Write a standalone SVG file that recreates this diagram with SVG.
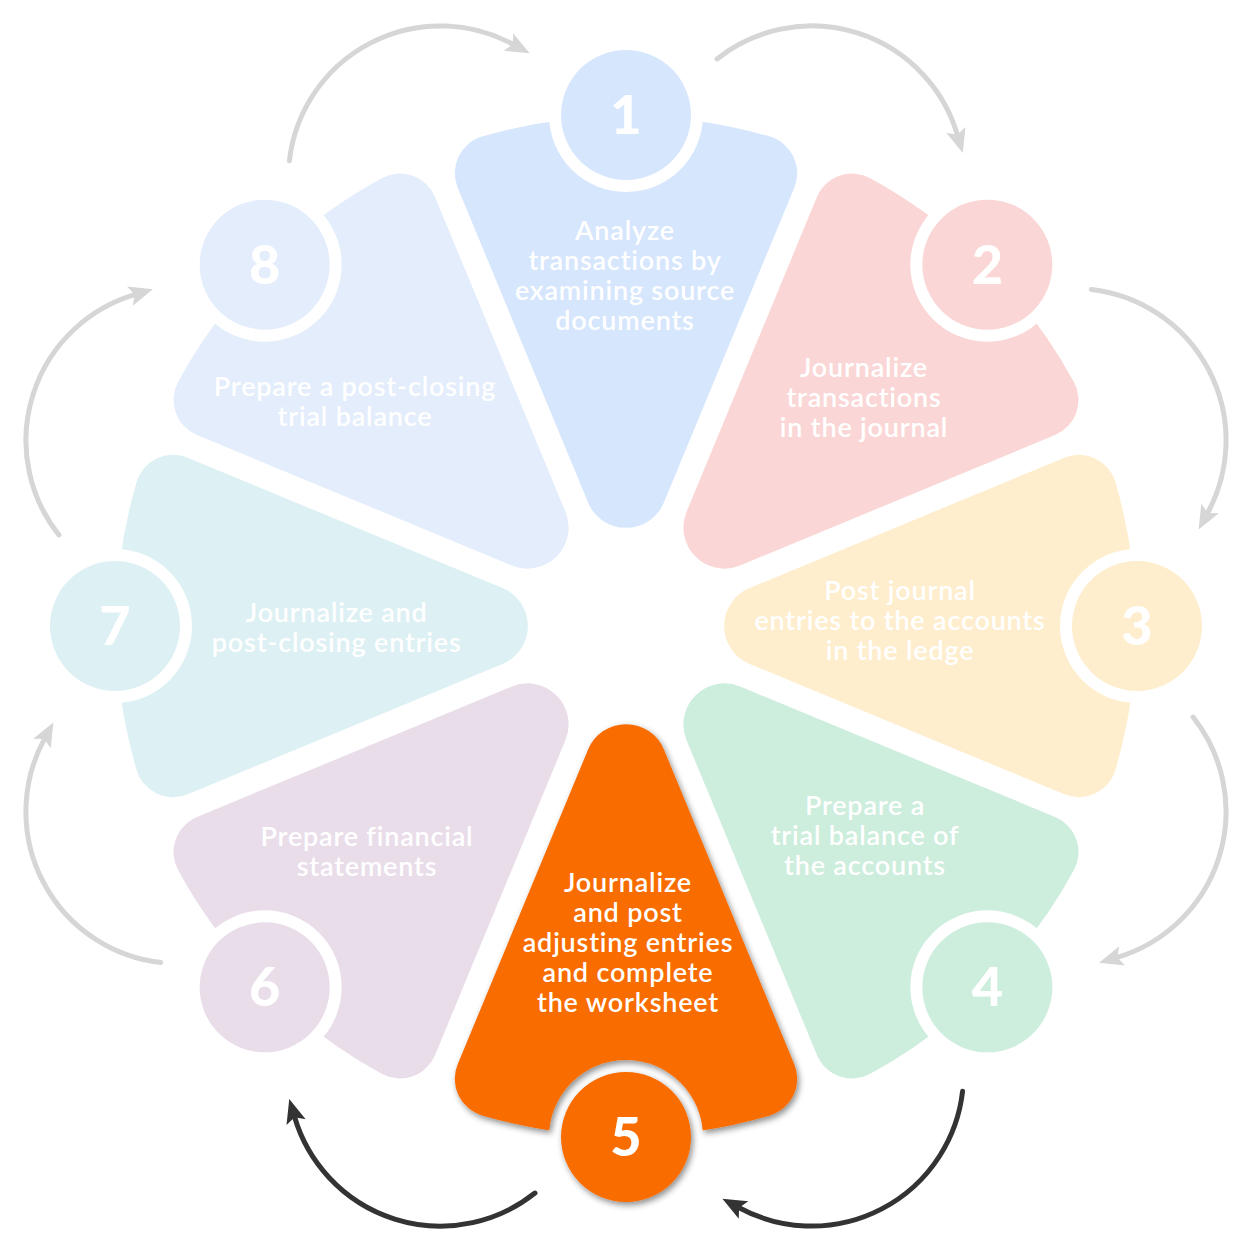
<svg xmlns="http://www.w3.org/2000/svg" xmlns:xlink="http://www.w3.org/1999/xlink" width="1251" height="1251" viewBox="0 0 1251 1251">
<style>
.lbl{font-family:Lato,"Open Sans","Liberation Sans",sans-serif;font-size:27px;font-weight:600;letter-spacing:0.8px;fill:#fff;text-anchor:middle}
.num{font-family:Lato,"Open Sans","Liberation Sans",sans-serif;font-size:54px;font-weight:900;fill:#fff;text-anchor:middle}
.arc{fill:none;stroke-width:5;stroke-linecap:round}
.g{stroke:#D6D6D6}
.d{stroke:#333333}
</style>
<defs>
<path id="petal" d="M588.1,502.5 L457.7,187.7 A38,38 0 0 1 482.1,136.6 A510,510 0 0 1 769.9,136.6 A38,38 0 0 1 794.3,187.7 L663.9,502.5 A41,41 0 0 1 588.1,502.5 Z"/>
<mask id="cut" maskUnits="userSpaceOnUse" x="0" y="0" width="1251" height="1251">
<rect x="0" y="0" width="1251" height="1251" fill="#fff"/>
<circle cx="626" cy="115" r="77" fill="#000"/>
</mask>
<marker id="ahG" markerUnits="userSpaceOnUse" markerWidth="26" markerHeight="22" refX="5" refY="10" orient="auto" overflow="visible">
<path d="M24,10 L0,0 L5,10 L0,20 Z" fill="#D6D6D6"/>
</marker>
<marker id="ahD" markerUnits="userSpaceOnUse" markerWidth="26" markerHeight="22" refX="5" refY="10" orient="auto" overflow="visible">
<path d="M24,10 L0,0 L5,10 L0,20 Z" fill="#333333"/>
</marker>
<filter id="shadow" x="-20%" y="-20%" width="140%" height="140%">
<feDropShadow dx="2" dy="3" stdDeviation="3" flood-color="#000" flood-opacity="0.45"/>
</filter>
</defs>
<rect width="1251" height="1251" fill="#fff"/>

<g id="node1">
<g><use xlink:href="#petal" fill="#D6E6FD" mask="url(#cut)"/><circle cx="626" cy="115" r="65" fill="#D6E6FD"/></g>
<text class="num" x="626" y="134">1</text>
<text class="lbl" x="625" y="240">Analyze</text>
<text class="lbl" x="625" y="270">transactions by</text>
<text class="lbl" x="625" y="300">examining source</text>
<text class="lbl" x="625" y="330">documents</text>
</g>

<g id="node2">
<g transform="rotate(45 626 626)"><use xlink:href="#petal" fill="#FAD7D6" mask="url(#cut)"/><circle cx="626" cy="115" r="65" fill="#FAD7D6"/></g>
<text class="num" x="987.3" y="283.7">2</text>
<text class="lbl" x="864" y="376.7">Journalize</text>
<text class="lbl" x="864" y="406.7">transactions</text>
<text class="lbl" x="864" y="436.7">in the journal</text>
</g>

<g id="node3">
<g transform="rotate(90 626 626)"><use xlink:href="#petal" fill="#FEEECE" mask="url(#cut)"/><circle cx="626" cy="115" r="65" fill="#FEEECE"/></g>
<text class="num" x="1137" y="645">3</text>
<text class="lbl" x="900" y="600">Post journal</text>
<text class="lbl" x="900" y="630">entries to the accounts</text>
<text class="lbl" x="900" y="660">in the ledge</text>
</g>

<g id="node4">
<g transform="rotate(135 626 626)"><use xlink:href="#petal" fill="#CDEDDD" mask="url(#cut)"/><circle cx="626" cy="115" r="65" fill="#CDEDDD"/></g>
<text class="num" x="987.3" y="1006.3">4</text>
<text class="lbl" x="865" y="815">Prepare a</text>
<text class="lbl" x="865" y="845">trial balance of</text>
<text class="lbl" x="865" y="875">the accounts</text>
</g>

<g id="node5">
<g filter="url(#shadow)"><g transform="rotate(180 626 626)"><use xlink:href="#petal" fill="#F86C06" mask="url(#cut)"/><circle cx="626" cy="115" r="65" fill="#F86C06"/></g></g>
<text class="num" x="626" y="1156">5</text>
<text class="lbl" x="628" y="891.5">Journalize</text>
<text class="lbl" x="628" y="921.5">and post</text>
<text class="lbl" x="628" y="951.5">adjusting entries</text>
<text class="lbl" x="628" y="981.5">and complete</text>
<text class="lbl" x="628" y="1011.5">the worksheet</text>
</g>

<g id="node6">
<g transform="rotate(225 626 626)"><use xlink:href="#petal" fill="#E9DDEA" mask="url(#cut)"/><circle cx="626" cy="115" r="65" fill="#E9DDEA"/></g>
<text class="num" x="264.7" y="1006.3">6</text>
<text class="lbl" x="367" y="846">Prepare financial</text>
<text class="lbl" x="367" y="876">statements</text>
</g>

<g id="node7">
<g transform="rotate(270 626 626)"><use xlink:href="#petal" fill="#DDF0F3" mask="url(#cut)"/><circle cx="626" cy="115" r="65" fill="#DDF0F3"/></g>
<text class="num" x="115" y="645">7</text>
<text class="lbl" x="336.7" y="621.7">Journalize and</text>
<text class="lbl" x="336.7" y="651.7">post-closing entries</text>
</g>

<g id="node8">
<g transform="rotate(315 626 626)"><use xlink:href="#petal" fill="#E4EDFB" mask="url(#cut)"/><circle cx="626" cy="115" r="65" fill="#E4EDFB"/></g>
<text class="num" x="264.7" y="283.7">8</text>
<text class="lbl" x="355" y="396">Prepare a post-closing</text>
<text class="lbl" x="355" y="426">trial balance</text>
</g>

<g id="connectors">
<path class="arc g" marker-end="url(#ahG)" transform="rotate(22.5 626 626)" d="M493.1,67.3 A152,152 0 0 1 744.1,45.3"/>
<path class="arc g" marker-end="url(#ahG)" transform="rotate(67.5 626 626)" d="M493.1,67.3 A152,152 0 0 1 744.1,45.3"/>
<path class="arc g" marker-end="url(#ahG)" transform="rotate(112.5 626 626)" d="M493.1,67.3 A152,152 0 0 1 744.1,45.3"/>
<path class="arc d" marker-end="url(#ahD)" transform="rotate(157.5 626 626)" d="M493.1,67.3 A152,152 0 0 1 744.1,45.3"/>
<path class="arc d" marker-end="url(#ahD)" transform="rotate(202.5 626 626)" d="M493.1,67.3 A152,152 0 0 1 744.1,45.3"/>
<path class="arc g" marker-end="url(#ahG)" transform="rotate(247.5 626 626)" d="M493.1,67.3 A152,152 0 0 1 744.1,45.3"/>
<path class="arc g" marker-end="url(#ahG)" transform="rotate(292.5 626 626)" d="M493.1,67.3 A152,152 0 0 1 744.1,45.3"/>
<path class="arc g" marker-end="url(#ahG)" transform="rotate(337.5 626 626)" d="M493.1,67.3 A152,152 0 0 1 744.1,45.3"/>
</g>
</svg>
